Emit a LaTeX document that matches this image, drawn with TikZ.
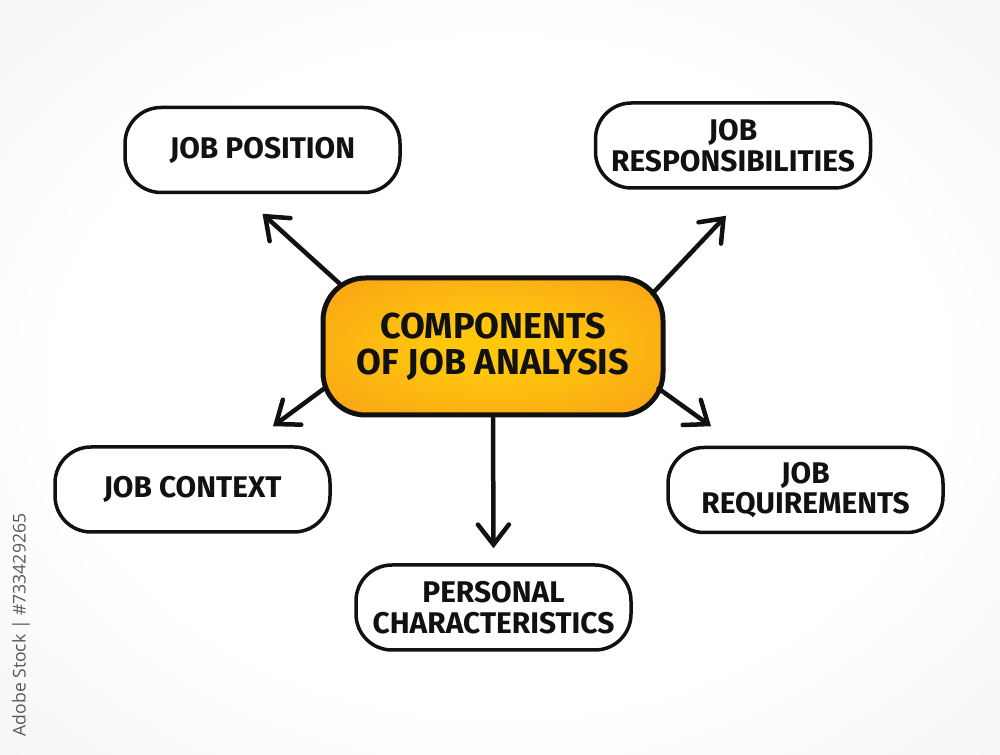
\documentclass[tikz,border=0pt]{standalone}
\usepackage{fontspec}
\setmainfont{Fira Sans}
\newfontfamily\stockfont{Open Sans}
\usepackage{xcolor}
\usepackage{tikz}
\usetikzlibrary{arrows.meta}

\definecolor{CoreYellow}{HTML}{FFC70C}
\definecolor{CoreOrange}{HTML}{F7921C}
\definecolor{InkBlack}{HTML}{111111}

\pgfdeclareradialshading{paper}{\pgfpoint{0bp}{0bp}}{color(0bp)=(white); color(22bp)=(white); color(71bp)=(black!13)}
\pgfdeclareradialshading{core}{\pgfpoint{0bp}{0bp}}{color(0bp)=(CoreYellow); color(8bp)=(CoreYellow); color(48bp)=(CoreOrange); color(71bp)=(CoreOrange)}

\begin{document}
\begin{tikzpicture}[
        topic/.style = {draw=InkBlack, fill=white,
            line width=0.07cm,
            rounded corners=0.72cm,
            minimum width=5.5cm, minimum height=1.7cm,
            align=center, text=InkBlack,
            font=\bfseries\fontsize{17}{17.5}\selectfont},
        core/.style = {draw=InkBlack, shading=core,
            line width=0.1cm,
            rounded corners=0.85cm,
            minimum width=6.8cm, minimum height=2.74cm,
            align=center, text=InkBlack,
            font=\bfseries\fontsize{20.5}{20.5}\selectfont},
        arr/.style = {draw=InkBlack, line width=0.09cm, line cap=round,
            -{Straight Barb[length=0.4cm, width=0.62cm, line cap=round]}}]

        % Background
        \useasboundingbox (0,0) rectangle (20,15.1);
        \shade[shading=paper] (0,0) rectangle (20,15.1);

        % Stock id
        \node[rotate=90, text=black!65, font=\stockfont\fontsize{10}{12}\selectfont]
            (stockid) at (0.42,2.6) {Adobe Stock | \#733429265};

        % Central topic
        \node[core] (comp) at (9.86,8.17) {COMPONENTS\\OF JOB ANALYSIS};

        % Components
        \node[topic] (position) at (5.25,12.1) {JOB POSITION};
        \node[topic] (resp) at (14.66,12.19) {JOB\\RESPONSIBILITIES};
        \node[topic] (context) at (3.85,5.31) {JOB CONTEXT};
        \node[topic] (req) at (16.11,5.3) {JOB\\REQUIREMENTS};
        \node[topic] (personal) at (9.87,2.95) {PERSONAL\\CHARACTERISTICS};

        % Arrows
        \draw[arr] ([shift={(0.38,-0.16)}]comp.north west) -- ([yshift=-0.39cm]position.south);
        \draw[arr] ([shift={(-0.26,-0.36)}]comp.north east) -- ([shift={(-0.14,-0.52)}]resp.south);
        \draw[arr] ([shift={(0.1,0.6)}]comp.south west) -- ([shift={(1.61,0.38)}]context.north);
        \draw[arr] ([shift={(-0.14,0.58)}]comp.south east) -- ([shift={(-1.89,0.39)}]req.north);
        \draw[arr] (comp.south) -- ([yshift=0.3cm]personal.north);

    \end{tikzpicture}
\end{document}
